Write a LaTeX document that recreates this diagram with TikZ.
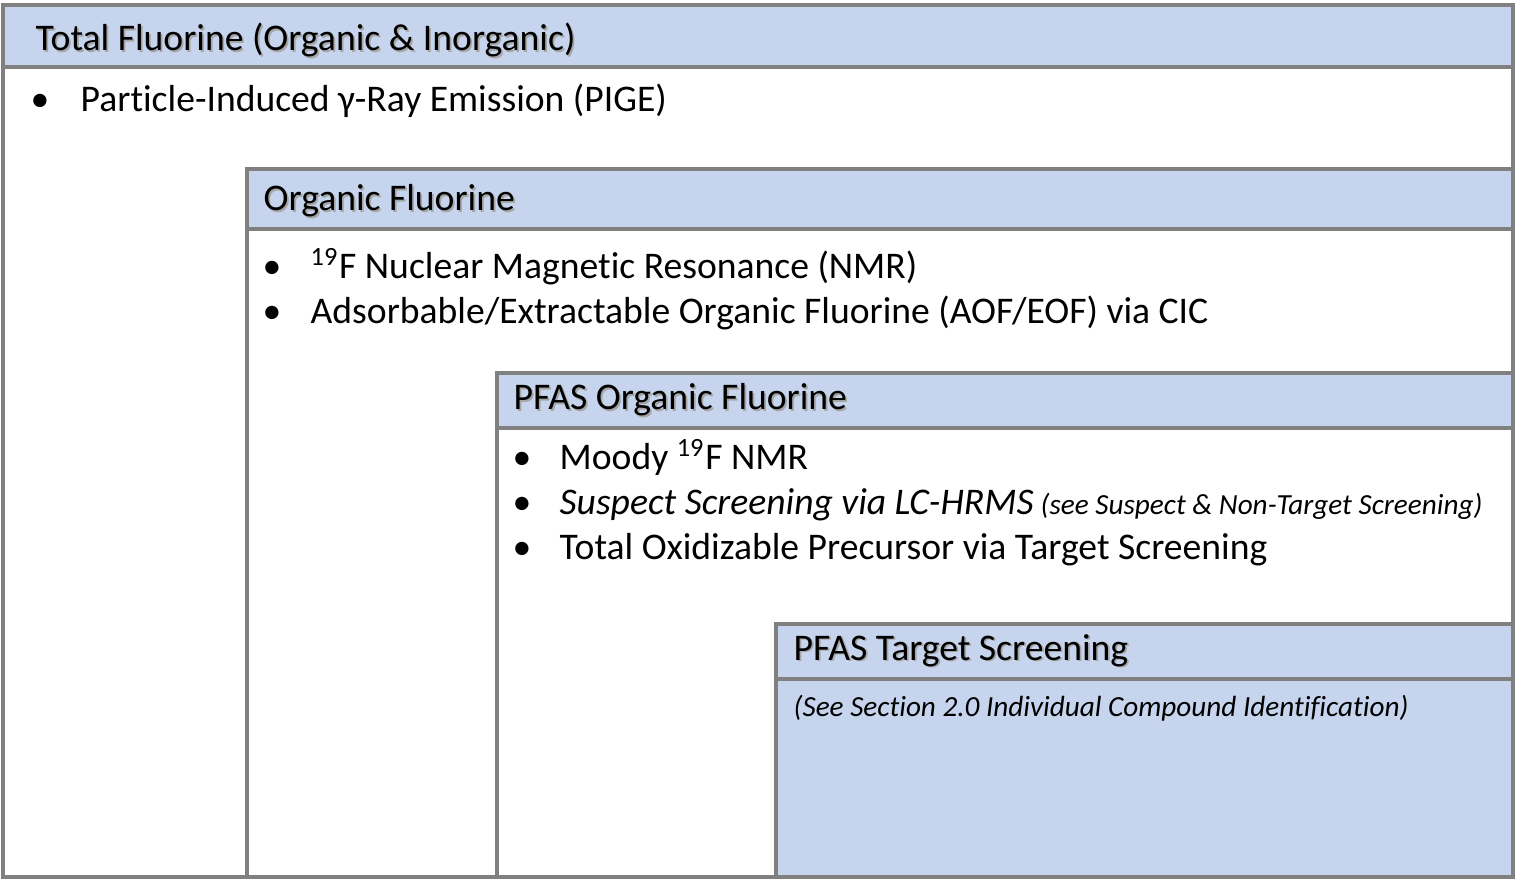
\documentclass[tikz,border=0pt]{standalone}
\usepackage{fontspec}
\setmainfont{Carlito}[Ligatures=NoCommon]
\usetikzlibrary{positioning}
\definecolor{bandblue}{HTML}{C6D5ED}
\definecolor{rulegray}{HTML}{808080}
\tikzset{
  layer/.style={draw=rulegray, line width=0.9pt, fill=white},
  band/.style={draw=rulegray, line width=0.9pt, fill=bandblue},
  txt/.style={anchor=base west, inner sep=0pt, font=\fontsize{10.7pt}{13pt}\selectfont},
  titletxt/.style={txt},
  titleshade/.style={txt, text=black!35, xshift=0.5pt, yshift=-0.5pt},
  notetxt/.style={anchor=base west, inner sep=0pt, font=\fontsize{8.3pt}{10pt}\selectfont\itshape},
}
\def\bul{\textbullet}
\begin{document}
\begin{tikzpicture}[x=0.01cm, y=-0.01cm]
  \useasboundingbox (0,0) rectangle (1516,880);

  %%%%% TOTAL FLUORINE %%%%%
  \draw[layer] (3,5) rectangle (1513,877);
  \draw[band] (3,5) rectangle (1513,67);
  \node[titleshade] at (35,51) {Total Fluorine (Organic \& Inorganic)};
  \node[titletxt] (tot-title) at (35,51) {Total Fluorine (Organic \& Inorganic)};
  \node[txt] (tot-b1) at (30,112) {\bul};
  \node[txt] (tot-i1) at (80,112) {Particle-Induced γ-Ray Emission (PIGE)};

  %%%%% ORGANIC FLUORINE %%%%%
  \draw[layer] (247,169) rectangle (1513,877);
  \draw[band] (247,169) rectangle (1513,229);
  \node[titleshade] at (263,211) {Organic Fluorine};
  \node[titletxt] (org-title) at (263,211) {Organic Fluorine};
  \node[txt] (org-b1) at (262,279) {\bul};
  \node[txt] (org-i1) at (310,279) {\textsuperscript{19}F Nuclear Magnetic Resonance (NMR)};
  \node[txt] (org-b2) at (262,324) {\bul};
  \node[txt] (org-i2) at (310,324) {Adsorbable/Extractable Organic Fluorine (AOF/EOF) via CIC};

  %%%%% PFAS ORGANIC FLUORINE %%%%%
  \draw[layer] (497,373) rectangle (1513,877);
  \draw[band] (497,373) rectangle (1513,428);
  \node[titleshade] at (513,410) {PFAS Organic Fluorine};
  \node[titletxt] (pfas-title) at (513,410) {PFAS Organic Fluorine};
  \node[txt] (pfas-b1) at (512,470) {\bul};
  \node[txt] (pfas-i1) at (559,470) {Moody \textsuperscript{19}F NMR};
  \node[txt] (pfas-b2) at (512,515) {\bul};
  \node[txt] (pfas-i2) at (559,515) {\itshape Suspect Screening via LC-HRMS};
  \node[notetxt] (pfas-n2) at (1040,515) {(see Suspect \& Non-Target Screening)};
  \node[txt] (pfas-b3) at (512,560) {\bul};
  \node[txt] (pfas-i3) at (559,560) {Total Oxidizable Precursor via Target Screening};

  %%%%% PFAS TARGET SCREENING %%%%%
  \draw[band] (776,624) rectangle (1513,877);
  \draw[band] (776,624) rectangle (1513,679);
  \node[titleshade] at (793,660) {PFAS Target Screening};
  \node[titletxt] (tgt-title) at (793,660) {PFAS Target Screening};
  \node[notetxt] (tgt-note) at (793,716) {(See Section 2.0 Individual Compound Identification)};
\end{tikzpicture}
\end{document}
